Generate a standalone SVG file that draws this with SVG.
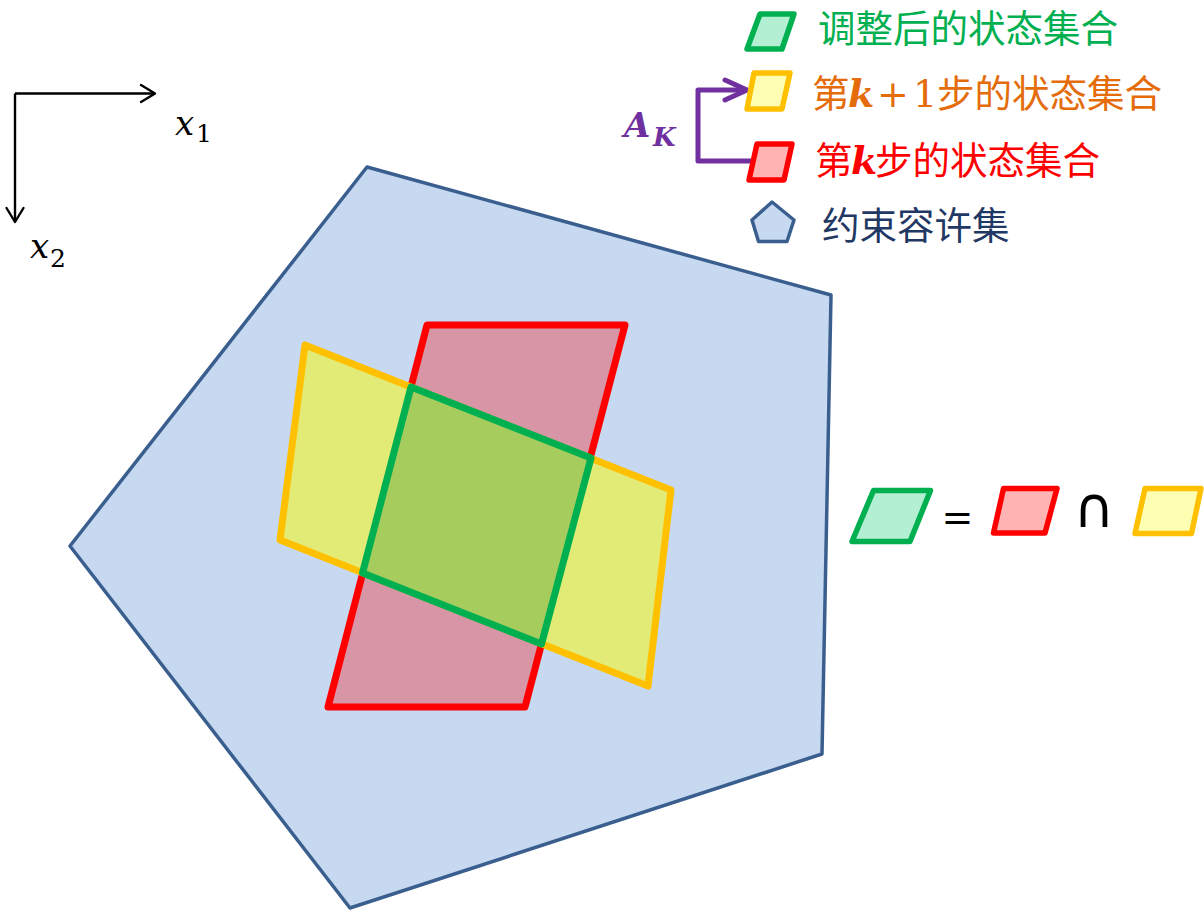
<svg xmlns="http://www.w3.org/2000/svg" width="1204" height="911" viewBox="0 0 1204 911">
<style>
.cjk{font-family:"Noto Sans CJK SC","Noto Sans",sans-serif;font-size:37.5px}
.math{font-family:"DejaVu Serif","Liberation Serif",serif}
.mb{font-family:"DejaVu Serif","Liberation Serif",serif;font-weight:bold;font-style:italic}
.axis{fill:none;stroke:#000;stroke-width:2.4}
.pent{fill:#C6D9F0;stroke:#3A5F8F;stroke-width:3.5;stroke-linejoin:round}
.shp{stroke-width:7;stroke-linejoin:round}
.lg{stroke-width:5.5;stroke-linejoin:round}
</style>
<defs>
<marker id="axArrow" markerUnits="userSpaceOnUse" viewBox="-18 -12 22 24" markerWidth="22" markerHeight="24" refX="0" refY="0" orient="auto">
<path d="M-14,-8.5 L0,0 L-14,8.5" fill="none" stroke="#000" stroke-width="2.4" stroke-linecap="round" stroke-linejoin="round"/>
</marker>
<marker id="purArrow" markerUnits="userSpaceOnUse" viewBox="-28 -16 34 32" markerWidth="34" markerHeight="32" refX="0" refY="0" orient="auto">
<path d="M-21,-10 L1,0 L-21,10" fill="none" stroke="#7030A0" stroke-width="5" stroke-linecap="round" stroke-linejoin="round"/>
</marker>
</defs>
<rect x="0" y="0" width="1204" height="911" fill="#FFFFFF"/>

<g id="axes">
<path class="axis" d="M15,93.5 H155" marker-end="url(#axArrow)"/>
<path class="axis" d="M15,93.5 V222" marker-end="url(#axArrow)"/>
<text class="math" font-style="italic" font-size="34" x="175" y="135">x</text>
<text class="math" font-size="25" x="196" y="142">1</text>
<text class="math" font-style="italic" font-size="34" x="30" y="258">x</text>
<text class="math" font-size="25" x="50" y="267">2</text>
</g>

<g id="constraint-set">
<polygon class="pent" points="367,167 831,295 822,754 350,908 70,546"/>
</g>

<g id="step-k-set">
<polygon class="shp" fill="#D895A6" stroke="#FF0000" points="427,325 625,325 525,707 328,707"/>
</g>

<g id="step-k1-set">
<polygon class="shp" fill="#E3EB77" stroke="#FFC000" points="305,345 671,490 648,686 280,540"/>
</g>

<g id="adjusted-set">
<polygon class="shp" fill="#A6CC5E" stroke="#00B050" points="411,387 591,458 541.5,644 362.5,573"/>
</g>

<g id="connectors">
<path d="M756,161 H698 V90 H746" fill="none" stroke="#7030A0" stroke-width="5" stroke-linejoin="round" marker-end="url(#purArrow)"/>
</g>

<g id="ak-label">
<text class="mb" fill="#7030A0" font-size="34" x="624" y="137">A</text>
<text class="mb" fill="#7030A0" font-size="26" x="653" y="146">K</text>
</g>

<g id="legend-adjusted">
<polygon class="lg" fill="#B3EFD3" stroke="#00B050" points="760,14 794,14 782,49 747,49"/>
<text class="cjk" fill="#00B050" x="818" y="42">调整后的状态集合</text>
</g>

<g id="legend-k1">
<polygon class="lg" fill="#FFFFB3" stroke="#FFC000" points="754,73 790,73 782,109 747,109"/>
<text class="cjk" fill="#E46C0A" y="107"><tspan x="812">第</tspan><tspan class="mb" font-size="38" x="848">k</tspan><tspan class="math" font-size="38" x="877">+</tspan><tspan class="math" font-size="38" x="913">1</tspan><tspan x="937">步的状态集合</tspan></text>
</g>

<g id="legend-k">
<polygon class="lg" fill="#FFB3B3" stroke="#FF0000" points="757,144 792,144 784,180 749,180"/>
<text class="cjk" fill="#FF0000" y="174"><tspan x="815">第</tspan><tspan class="mb" font-size="38" x="851">k</tspan><tspan x="875">步的状态集合</tspan></text>
</g>

<g id="legend-constraint">
<polygon class="pent" stroke-width="4" points="772,202 794,220 787,241.5 758.5,241.5 752,220"/>
<text class="cjk" fill="#1F3864" x="822" y="239">约束容许集</text>
</g>

<g id="equation">
<polygon class="lg" fill="#B3EFD3" stroke="#00B050" points="873.5,490.5 930.5,490.5 910,541.5 852,541.5"/>
<text font-family="DejaVu Sans, sans-serif" font-size="38" text-anchor="middle" x="957.5" y="530">=</text>
<polygon class="lg" fill="#FFB3B3" stroke="#FF0000" points="1003.5,488.5 1057,488.5 1045,533 993.5,533"/>
<text font-family="DejaVu Sans, sans-serif" font-size="56" text-anchor="middle" x="1094" y="527">∩</text>
<polygon class="lg" fill="#FFFFB3" stroke="#FFC000" points="1145,488.5 1201,488.5 1191.5,533.5 1135,533.5"/>
</g>
</svg>
